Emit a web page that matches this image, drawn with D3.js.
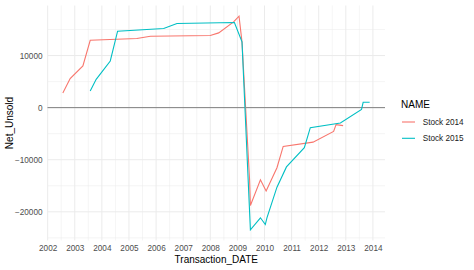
<!DOCTYPE html>
<meta charset="utf-8">
<title>Net unsold stock</title>
<style>
body { margin: 0; background: #fff; }
svg { font-family: "Liberation Sans", Arial, sans-serif; }
.tick text { fill: #4d4d4d; font-size: 8.2px; }
.grid line { stroke: #ebebeb; }
</style>
<script src="https://d3js.org/d3.v7.min.js"></script>
<body>
<script>
var width = 474, height = 270;

// Stock 2014 (decimal years / net unsold)
var years2014 = [2002.56, 2002.83, 2003.30, 2003.57, 2005.29, 2005.79, 2008.00, 2008.31, 2008.86, 2009.06,
                 2009.17, 2009.45, 2009.48, 2009.85, 2010.06, 2010.46, 2010.69, 2011.79, 2012.55, 2012.64, 2012.90];
var values2014 = [2800, 5580, 8000, 12940, 13270, 13700, 13850, 14350, 16460, 17560,
                  12620, -13850, -18790, -13850, -16000, -11540, -7440, -6620, -4560, -3270, -3460];

// Stock 2015
var years2015 = [2003.57, 2003.79, 2004.31, 2004.58, 2006.28, 2006.77, 2008.89, 2009.17, 2009.48, 2009.85,
                 2010.03, 2010.09, 2010.46, 2010.81, 2011.47, 2011.69, 2012.80, 2013.58, 2013.64, 2013.88];
var values2015 = [3190, 5440, 8960, 14670, 15190, 16150, 16350, 12620, -23460, -21150,
                  -22440, -21150, -15270, -11380, -7690, -3850, -2960, -330, 1020, 1020];

var names = ["Stock 2014", "Stock 2015"];
var colors = ["#F8766D", "#00BFC4"];

var xTicks = d3.range(2002, 2015);
var xMinor = d3.range(2002.5, 2014, 1);
var yTicks = [-20000, -10000, 0, 10000];
var yMinor = [-25000, -15000, -5000, 5000, 15000];

var series = [
  { name: names[0], pts: years2014.map(function(d, i) { return [d, values2014[i]]; }) },
  { name: names[1], pts: years2015.map(function(d, i) { return [d, values2015[i]]; }) }
];

// ggplot style 5% expansion
function expand(ext) { var p = (ext[1] - ext[0]) * 0.05; return [ext[0] - p, ext[1] + p]; }
var allX = years2014.concat(years2015), allY = values2014.concat(values2015);

var panel = { left: 47.5, right: 385, top: 5.5, bottom: 240.5 };
var x = d3.scaleLinear().domain(expand(d3.extent(allX))).range([panel.left, panel.right]);
var y = d3.scaleLinear().domain(expand(d3.extent(allY))).range([panel.bottom, panel.top]);

var svg = d3.select("body").append("svg")
    .attr("width", width)
    .attr("height", height);

// grid
var grid = svg.append("g").attr("class", "grid");
grid.selectAll("line.ymin").data(yMinor).enter().append("line")
    .attr("x1", panel.left).attr("x2", panel.right)
    .attr("y1", y).attr("y2", y).attr("stroke-width", 0.5);
grid.selectAll("line.xmin").data(xMinor).enter().append("line")
    .attr("y1", panel.top).attr("y2", panel.bottom)
    .attr("x1", x).attr("x2", x).attr("stroke-width", 0.5);
grid.selectAll("line.ymaj").data(yTicks).enter().append("line")
    .attr("x1", panel.left).attr("x2", panel.right)
    .attr("y1", y).attr("y2", y).attr("stroke-width", 1);
grid.selectAll("line.xmaj").data(xTicks).enter().append("line")
    .attr("y1", panel.top).attr("y2", panel.bottom)
    .attr("x1", x).attr("x2", x).attr("stroke-width", 1);

// zero line
svg.append("line")
    .attr("x1", panel.left).attr("x2", panel.right)
    .attr("y1", y(0)).attr("y2", y(0))
    .attr("stroke", "#808080").attr("stroke-width", 1);

var line = d3.line().x(function(d) { return x(d[0]); }).y(function(d) { return y(d[1]); });
svg.selectAll("path.series").data(series).enter().append("path")
    .attr("class", "series")
    .attr("fill", "none")
    .attr("stroke", function(d, i) { return colors[i]; })
    .attr("stroke-width", 1.1)
    .attr("d", function(d) { return line(d.pts); });

// axes
var xAxis = svg.append("g")
    .attr("transform", "translate(0," + (panel.bottom + 2) + ")")
    .call(d3.axisBottom(x).tickValues(xTicks).tickFormat(d3.format("d")).tickSize(0).tickPadding(3));
xAxis.select(".domain").remove();

var yAxis = svg.append("g")
    .attr("transform", "translate(" + (panel.left - 2) + ",0)")
    .call(d3.axisLeft(y).tickValues(yTicks).tickFormat(d3.format("d")).tickSize(0).tickPadding(3));
yAxis.select(".domain").remove();

// titles
svg.append("text")
    .attr("x", (panel.left + panel.right) / 2).attr("y", 263)
    .attr("text-anchor", "middle").attr("font-size", 10).attr("fill", "#000")
    .text("Transaction_DATE");
svg.append("text")
    .attr("transform", "translate(13," + ((panel.top + panel.bottom) / 2) + ") rotate(-90)")
    .attr("text-anchor", "middle").attr("font-size", 10).attr("fill", "#000")
    .text("Net_Unsold");

// legend
var legend = svg.append("g").attr("transform", "translate(401,0)");
legend.append("text").attr("x", 0).attr("y", 107.5).attr("font-size", 10).text("NAME");
var item = legend.selectAll("g.item").data(names).enter().append("g")
    .attr("transform", function(d, i) { return "translate(0," + (122 + i * 16.3) + ")"; });
item.append("line").attr("x1", 1).attr("x2", 14).attr("y1", 0).attr("y2", 0)
    .attr("stroke", function(d, i) { return colors[i]; }).attr("stroke-width", 1.1);
item.append("text").attr("x", 21.7).attr("y", 3).attr("font-size", 8.2).attr("fill", "#1a1a1a")
    .text(function(d) { return d; });
</script>
